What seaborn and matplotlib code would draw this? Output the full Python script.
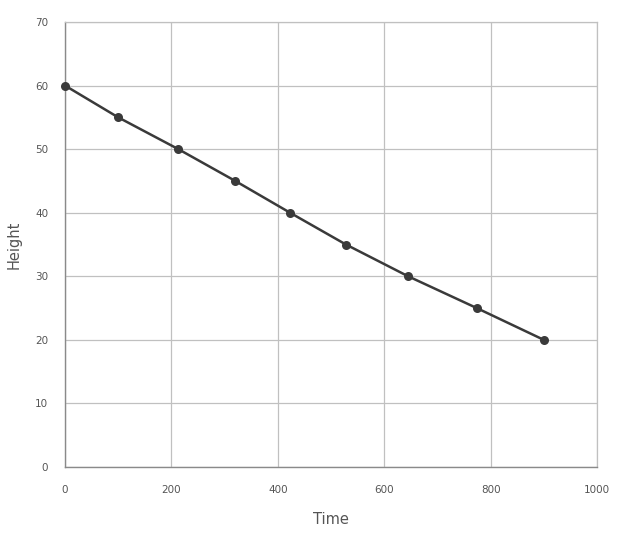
import matplotlib
matplotlib.use("Agg")
import matplotlib.pyplot as plt
import seaborn as sns
import pandas as pd

time = [0, 100, 213, 320, 423, 528, 645, 774, 900]
height = [60, 55, 50, 45, 40, 35, 30, 25, 20]
x_ticks = [0, 200, 400, 600, 800, 1000]
y_ticks = [0, 10, 20, 30, 40, 50, 60, 70]

sns.set_style("white")
plt.rcParams['font.family'] = ['DejaVu Sans']

df = pd.DataFrame({"Time": time, "Height": height})

fig = plt.figure(figsize=(6.28, 5.36), dpi=100)
ax = fig.add_axes([65/628, (536-467)/536, (597-65)/628, (467-22)/536])

sns.lineplot(data=df, x="Time", y="Height", ax=ax, color="#3a3a3a",
             linewidth=1.8, marker="o", markersize=6.5, markeredgewidth=0,
             zorder=3, clip_on=False)

ax.set_xlim(0, 1000)
ax.set_ylim(0, 70)
ax.set_xticks(x_ticks)
ax.set_yticks(y_ticks)
ax.grid(True, color="#c0c0c0", linewidth=0.9)
ax.set_axisbelow(True)
for s in ["top", "right"]:
    ax.spines[s].set_color("#c0c0c0")
    ax.spines[s].set_linewidth(0.9)
for s in ["left", "bottom"]:
    ax.spines[s].set_color("#8a8a8a")
    ax.spines[s].set_linewidth(1.0)
ax.tick_params(axis="both", length=0, labelsize=7.5, labelcolor="#555555")
ax.tick_params(axis="x", pad=13)
ax.tick_params(axis="y", pad=12)
ax.set_xlabel("Time", fontsize=10.5, color="#555555", labelpad=12)
ax.set_ylabel("Height", fontsize=10.5, color="#555555", labelpad=10)

fig.savefig("out.png", dpi=100)
